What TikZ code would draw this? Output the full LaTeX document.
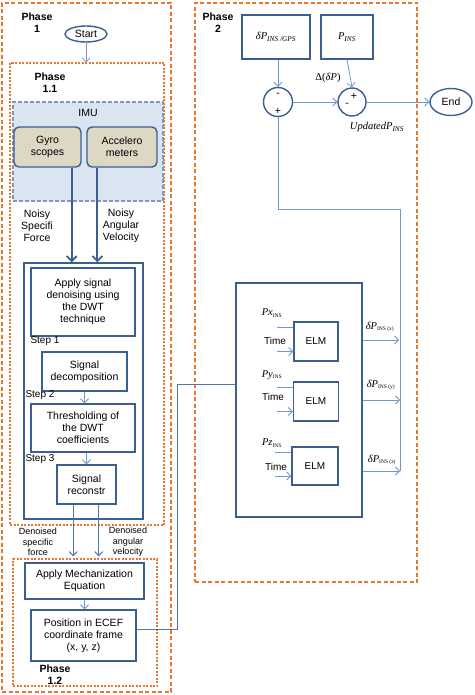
\documentclass[tikz,border=0pt]{standalone}
\usepackage{fontspec}
\setmainfont{Liberation Sans}
\newfontfamily\tms{Liberation Serif}
\usetikzlibrary{arrows.meta,shapes.geometric}
\definecolor{dblue}{HTML}{3B5F8F}
\definecolor{mblue}{HTML}{4F76AD}
\definecolor{lblue}{HTML}{6F97CA}
\definecolor{orng}{HTML}{E8772E}
\definecolor{imufill}{HTML}{DBE5F1}
\definecolor{imuline}{HTML}{8496B0}
\definecolor{tan}{HTML}{DDD8C4}
\newcommand{\mi}[1]{{\tms\itshape #1}}
\newcommand{\tinysub}[1]{\textsubscript{\tms\fontsize{5.5}{6}\selectfont #1}}

\begin{document}
\begin{tikzpicture}[x=1pt,y=-1pt,>={Straight Barb[length=4pt,width=8pt]},
    every node/.style={font=\fontsize{10.5}{12}\selectfont},
    blk/.style={draw=dblue,line width=1.4pt,align=center,inner sep=1pt},
    sens/.style={blk,fill=tan,rounded corners=5pt},
    term/.style={draw=dblue,line width=1.4pt,ellipse,inner sep=0pt},
    sumc/.style={draw=dblue,line width=1.4pt,circle,inner sep=0pt,minimum size=29},
    lbl/.style={align=center,inner sep=0pt},
    smalltxt/.style={lbl,font=\fontsize{9}{10.5}\selectfont},
    steptxt/.style={lbl,font=\fontsize{10}{12}\selectfont},
    phlbl/.style={lbl,font=\bfseries\fontsize{10.5}{12}\selectfont},
    arr/.style={->,draw=lblue,line width=0.8pt},
    thk/.style={-{Straight Barb[length=5pt,width=10pt]},draw=dblue,line width=1.8pt},
    ln/.style={draw=lblue,line width=0.8pt},
    outerbox/.style={draw=orng,line width=2pt,dash pattern=on 4pt off 2.5pt},
    innerbox/.style={draw=orng,line width=1.1pt,dash pattern=on 2pt off 1.5pt},
  ]
\useasboundingbox (0,0) rectangle (474,695);

% phase frames
\node[outerbox,minimum width=169,minimum height=689] (ph1) at (86.5,347.5) {};
\node[outerbox,minimum width=222,minimum height=579] (ph2) at (306,292.5) {};
\node[innerbox,minimum width=154,minimum height=462] (ph11) at (87,294) {};
\node[innerbox,minimum width=144,minimum height=127] (ph12) at (85,622.5) {};
\node[phlbl] (ph1lbl) at (37,23) {Phase\\1};
\node[phlbl] (ph2lbl) at (218,23) {Phase\\2};
\node[phlbl] (ph11lbl) at (50,83) {Phase\\1.1};
\node[phlbl] (ph12lbl) at (55,674.5) {Phase\\1.2};

% phase 1
\node[term,minimum width=42,minimum height=16] (start) at (86,34) {Start};
\node[draw=imuline,fill=imufill,line width=1.2pt,dash pattern=on 4pt off 2pt,
      minimum width=150,minimum height=99] (imu) at (88,151.5) {};
\node[lbl] (imulbl) at (88,113) {IMU};
\node[sens,minimum width=67,minimum height=40] (gyro) at (47.5,147) {Gyro\\scopes};
\node[sens,minimum width=70,minimum height=40] (accel) at (122,147) {Accelero\\meters};
\node[lbl] (noisyf) at (37,226) {Noisy\\Specifi\\Force};
\node[lbl] (noisyw) at (121,226) {Noisy\\Angular\\Velocity};

\node[blk,minimum width=119,minimum height=256] (dwt) at (83.5,391) {};
\node[blk,minimum width=104,minimum height=68] (denoise) at (83,302)
  {Apply signal\\denoising using\\the DWT\\technique};
\node[steptxt] (step1) at (45,341) {Step 1};
\node[blk,minimum width=85,minimum height=39] (decomp) at (84.5,371.5)
  {Signal\\decomposition};
\node[steptxt] (step2) at (40,395) {Step 2};
\node[blk,minimum width=104,minimum height=48] (thresh) at (83,428)
  {Thresholding of\\the DWT\\coefficients};
\node[steptxt] (step3) at (40,459) {Step 3};
\node[blk,minimum width=59,minimum height=39] (recon) at (86.5,484.5)
  {Signal\\reconstr};

\node[smalltxt] (dnf) at (38,542) {Denoised\\specific\\force};
\node[smalltxt] (dnw) at (128,542) {Denoised\\angular\\velocity};
\node[blk,minimum width=119,minimum height=36] (mech) at (84.5,581)
  {Apply Mechanization\\Equation};
\node[blk,minimum width=105,minimum height=51] (pos) at (83.5,635.5)
  {Position in ECEF\\coordinate frame\\(x, y, z)};

% phase 2
\node[blk,minimum width=68,minimum height=44] (gps) at (276,37)
  {\mi{δP}\textsubscript{\tms\itshape INS /GPS}};
\node[blk,minimum width=52,minimum height=44] (ins) at (347,37)
  {\mi{P}\textsubscript{\tms\itshape INS}};
\node[sumc] (sum1) at (278,102) {};
\node[lbl] (s1m) at (278,95) {-};
\node[lbl] (s1p) at (278,111) {+};
\node[sumc,minimum size=28] (sum2) at (352,102) {};
\node[lbl] (s2m) at (347,105) {-};
\node[lbl] (s2p) at (354,96) {+};
\node[lbl] (dlt) at (328,78) {{\tms Δ(\textit{δP})}};
\node[lbl] (upd) at (377,127) {\mi{UpdatedP}\textsubscript{\tms\itshape INS}};
\node[term,minimum width=42,minimum height=27] (end) at (451,102) {End};

\node[blk,minimum width=126,minimum height=234] (elmbox) at (299,400) {};
\node[blk,minimum width=44,minimum height=39,font=\fontsize{10}{12}\selectfont] (elm1) at (316,341.5) {ELM};
\node[blk,minimum width=45,minimum height=39,font=\fontsize{10}{12}\selectfont] (elm2) at (316,401.5) {ELM};
\node[blk,minimum width=46,minimum height=38,font=\fontsize{10}{12}\selectfont] (elm3) at (315,466) {ELM};
\node[lbl] (px) at (272,313) {\mi{Px}\tinysub{INS}};
\node[lbl] (py) at (272,375) {\mi{Py}\tinysub{INS}};
\node[lbl] (pz) at (272,443) {\mi{Pz}\tinysub{INS}};
\node[steptxt] (t1) at (275,341) {Time};
\node[steptxt] (t2) at (273,397) {Time};
\node[steptxt] (t3) at (276,467) {Time};
\node[lbl] (ox) at (380,327) {\mi{δP}\tinysub{INS (x)}};
\node[lbl] (oy) at (381,385) {\mi{δP}\tinysub{INS (y)}};
\node[lbl] (oz) at (382,460) {\mi{δP}\tinysub{INS (z)}};
\coordinate (bx) at (399,340);
\coordinate (by) at (400,400);
\coordinate (bz) at (400,471);

% connectors
\draw[arr] (start) -- (start |- ph11.north);
\draw[thk] ([xshift=-10]gyro.south east) -- ([xshift=-10]gyro.south east |- dwt.north);
\draw[thk] ([xshift=11]accel.south west) -- ([xshift=11]accel.south west |- dwt.north);
\draw[arr] (decomp.south) -- (decomp.south |- thresh.north);
\draw[arr] (thresh.south -| recon) -- (recon.north);
\draw[arr,line width=1pt,draw=mblue,shorten >=6pt] ([xshift=17]recon.south west) -- ([xshift=17]recon.south west |- mech.north);
\draw[arr,line width=1pt,draw=mblue,shorten >=6pt] ([xshift=-18]recon.south east) -- ([xshift=-18]recon.south east |- mech.north);
\draw[arr] (mech.south) -- (mech.south |- pos.north);
\draw[mblue,line width=1pt] (pos.east) ++(0,-6) -- ++(41,0) |- ([yshift=16]elmbox.west);

\draw[arr] (gps.south -| sum1) -- (sum1.north);
\draw[arr] (ins.south) -- (sum2.north);
\draw[arr] (sum1.east) -- (sum2.west);
\draw[arr] (sum2.east) -- (end.west);
\foreach \e in {elm1,elm2,elm3}
  \draw[arr] (\e.west) ++(-16,-14) -- ++(16,0)
             (\e.west) ++(-16,10) -- ++(16,0);
\draw[arr] (elmbox.east |- bx) -- (bx);
\draw[arr] (elmbox.east |- by) -- (by);
\draw[arr] (elmbox.east |- bz) -- (bz);
\draw[ln] (sum1.south) -- ++(0,92) -| (bz);
\end{tikzpicture}
\end{document}
